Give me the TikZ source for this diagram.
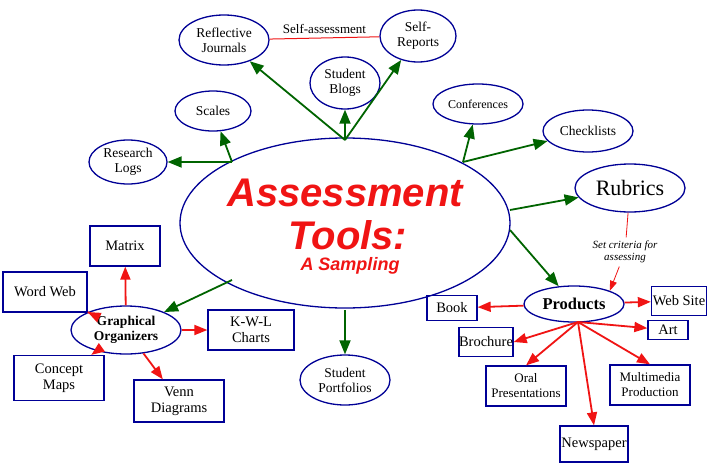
\documentclass[tikz,border=0pt]{standalone}
\usepackage{fontspec}
\setmainfont{Liberation Serif}
\newfontfamily\titlefont{Liberation Sans}
\usetikzlibrary{shapes.geometric,arrows.meta}
\definecolor{nblue}{RGB}{0,0,150}
\definecolor{ngreen}{RGB}{0,100,0}
\definecolor{nred}{RGB}{240,20,20}
\tikzset{
  ell/.style={ellipse,draw=nblue,line width=1.3pt,inner sep=0pt,align=center,font=\fontsize{13.5}{15}\selectfont},
  box/.style={rectangle,draw=nblue,line width=1.3pt,inner sep=0pt,align=center,font=\fontsize{14.5}{16}\selectfont},
  garrow/.style={draw=ngreen,line width=1.8pt,-{Triangle[length=14pt,width=11pt]}},
  rarrow/.style={draw=nred,line width=1.8pt,-{Triangle[length=13pt,width=10pt]}},
}
\begin{document}
\begin{tikzpicture}[x=1pt,y=-1pt]
\useasboundingbox[fill=white] (0,0) rectangle (709,463);
\node[ell,minimum width=330,minimum height=170] (c) at (345,223) {};
\node[text=nred,font=\titlefont\bfseries\itshape\fontsize{40}{42}\selectfont] at (345,193) {Assessment};
\node[text=nred,font=\titlefont\bfseries\itshape\fontsize{40}{42}\selectfont] at (348,235) {Tools:};
\node[text=nred,font=\titlefont\bfseries\itshape\fontsize{18}{19}\selectfont] at (350,266) {A Sampling};

\node[ell,minimum width=90,minimum height=50] (rj) at (224,40) {Reflective\\Journals};
\node[ell,minimum width=76,minimum height=52] (sr) at (418,36) {Self-\\Reports};
\node[ell,minimum width=70,minimum height=52] (sb) at (345,83) {Student\\Blogs};
\node[ell,minimum width=76,minimum height=40] (sc) at (213,111) {Scales};
\node[ell,minimum width=78,minimum height=44] (rl) at (128,162) {Research\\Logs};
\node[ell,minimum width=90,minimum height=40,font=\fontsize{12}{13}\selectfont] (cf) at (478,104) {Conferences};
\node[ell,minimum width=90,minimum height=42] (ck) at (588,131) {Checklists};
\node[ell,minimum width=110,minimum height=48,font=\fontsize{22}{24}\selectfont] (ru) at (630,188) {Rubrics};
\node[ell,minimum width=100,minimum height=36,font=\bfseries\fontsize{16.5}{18}\selectfont] (pr) at (574,304) {Products};
\node[ell,minimum width=110,minimum height=48,font=\bfseries\fontsize{13.5}{15}\selectfont] (go) at (126,330) {Graphical\\Organizers};
\node[ell,minimum width=90,minimum height=50] (sp) at (345,380) {Student\\Portfolios};

\node[box,minimum width=70,minimum height=40] (mx) at (125,246) {Matrix};
\node[box,minimum width=84,minimum height=40] (ww) at (45,292) {Word Web};
\node[box,minimum width=86,minimum height=40] (kw) at (251,330) {K-W-L\\Charts};
\node[box,minimum width=90,minimum height=45] (cm) at (59,378) {Concept\\Maps};
\node[box,minimum width=90,minimum height=42] (vd) at (179,401) {Venn\\Diagrams};
\node[box,minimum width=50,minimum height=25] (bk) at (452,308) {Book};
\node[box,minimum width=54,minimum height=29] (br) at (486,342) {Brochure};
\node[box,minimum width=55,minimum height=29] (ws) at (679,301) {Web Site};
\node[box,minimum width=40,minimum height=19] (ar) at (668,330) {Art};
\node[box,minimum width=80,minimum height=40,font=\fontsize{13}{15}\selectfont] (op) at (526,386) {Oral\\Presentations};
\node[box,minimum width=80,minimum height=40,font=\fontsize{13}{15}\selectfont] (mm) at (650,385) {Multimedia\\Production};
\node[box,minimum width=68,minimum height=36] (np) at (594,444) {Newspaper};

\coordinate (top) at (345,140);
\coordinate (tl) at (232,162);
\coordinate (tr) at (463,162);
\draw[garrow] (top) -- (rj);
\draw[garrow] (top) -- (sb);
\draw[garrow] (top) -- (sr);
\draw[garrow] (tl) -- (sc);
\draw[garrow] (tl) -- (rl.east);
\draw[garrow] (tr) -- (cf);
\draw[garrow] (tr) -- (ck);
\draw[garrow] (510,210) -- (ru);
\draw[garrow] (510,230) -- (pr);
\draw[garrow] (232,280) -- (go);
\draw[garrow] (345,310) -- (sp);

\draw[draw=nred,line width=1pt] (rj) -- node[above,text=black,font=\fontsize{13}{14}\selectfont]{Self-assessment} (sr);
\node[font=\itshape\fontsize{11}{12}\selectfont,align=center] (lab) at (625,252) {Set criteria for\\assessing};
\draw[draw=nred,line width=0.8pt] (ru) -- (lab);
\draw[draw=nred,line width=0.8pt,-{Triangle[length=10pt,width=7pt]}] (lab) -- (pr.north east);

\coordinate (pc) at (578,322);
\draw[rarrow] (pr) -- (bk);
\draw[rarrow] (pr) -- (ws);
\draw[rarrow] (pc) -- (ar);
\draw[rarrow] (pc) -- (br.east);
\draw[rarrow] (pc) -- (op.north);
\draw[rarrow] (pc) -- (np.north);
\draw[rarrow] (pc) -- (mm.north);
\draw[rarrow] (go) -- (ww);
\draw[rarrow] (go) -- (mx);
\draw[rarrow] (go) -- (kw);
\draw[rarrow] (go) -- (cm);
\draw[rarrow] (go) -- (vd);
\end{tikzpicture}
\end{document}
